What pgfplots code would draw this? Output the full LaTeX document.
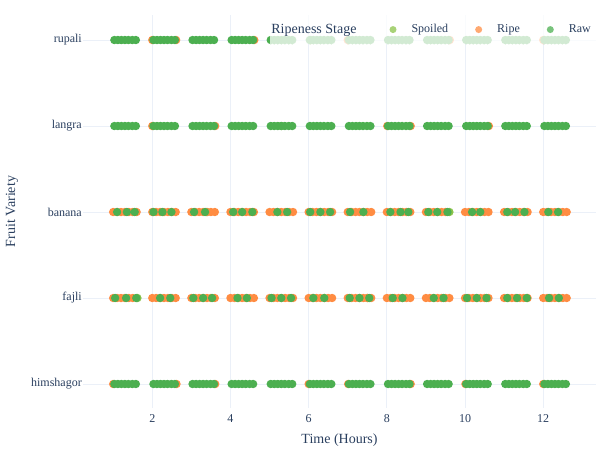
\documentclass[border=0pt]{standalone}
\usepackage{pgfplots}
\pgfplotsset{compat=1.18}
\usepackage{fontspec}
\setmainfont{Liberation Serif}
\definecolor{txt}{HTML}{2A3F5F}
\definecolor{gridc}{HTML}{EBF0F8}
\definecolor{spoiled}{HTML}{8BC34A}
\definecolor{ripe}{HTML}{FF8C42}
\definecolor{raw}{HTML}{4CAF50}
\begin{document}
\begin{tikzpicture}
\useasboundingbox (-83bp,-42bp) rectangle (513bp,408bp);
\begin{axis}[at={(0,0)}, anchor=south west, scale only axis, width=513bp, height=393bp,
 xmin=0.228, xmax=13.35, ymin=-0.279, ymax=4.291,
 xtick={2,4,6,8,10,12}, ytick={0,1,2,3,4},
 yticklabels={himshagor,fajli,banana,langra,rupali},
 /pgf/number format/assume math mode=true,
 grid=major, major grid style={draw=gridc, line width=1bp},
 axis line style={draw=none}, major tick length=0pt,
 tick label style={font=\fontsize{12bp}{14bp}\selectfont, text=txt},
 xticklabel style={anchor=north, inner sep=0pt, yshift=-6bp},
 yticklabel style={anchor=east, inner sep=0pt, xshift=-1bp},
 xlabel={Time (Hours)}, ylabel={Fruit Variety},
 label style={font=\fontsize{14bp}{16bp}\selectfont, text=txt},
 xlabel style={at={(axis description cs:0.5,-0.0814)}, anchor=center},
 ylabel style={at={(axis description cs:-0.1384,0.5)}, anchor=center},
 legend columns=4, legend cell align=left,
 legend style={at={(rel axis cs:1,1)}, anchor=north east, draw=none, fill=white,
   fill opacity=0.75, text opacity=1, font=\fontsize{12bp}{14bp}\selectfont, text=txt,
   inner xsep=3bp, inner ysep=7bp,
   /tikz/every even column/.append style={column sep=25bp},
   /tikz/every odd column/.append style={column sep=13bp}},
 legend image code/.code={\draw[#1, mark size=3.5bp] plot coordinates {(0bp,0bp)};},
 every axis plot/.append style={only marks, mark=*, mark size=4.2bp},
]
\addlegendimage{empty legend}
\addlegendentry{\fontsize{14bp}{16bp}\selectfont\hspace*{-17bp}Ripeness Stage\hspace*{6bp}}

\addplot[color=spoiled, mark options={fill=spoiled, draw opacity=0}] coordinates {
(9.60,2)(1.62,1)(6.05,4)(5.30,3)(3.40,2)(7.50,1)
};
\addlegendentry{Spoiled}

\addplot[color=ripe, mark options={fill=ripe, draw opacity=0}] coordinates {
(1.00,0)(2.62,0)(3.61,0)(6.00,0)(7.01,0)(8.61,0)(10.01,0)(12.00,0)
(2.00,3)(3.61,3)(8.01,3)(8.61,3)(10.61,3)
(2.00,4)(2.61,4)(4.61,4)(7.00,4)(9.61,4)(12.00,4)
(1.00,2)(1.10,2)(1.20,2)(1.30,2)(1.40,2)(1.50,2)(1.60,2)
(2.00,2)(2.10,2)(2.20,2)(2.30,2)(2.40,2)(2.50,2)(2.60,2)
(3.00,2)(3.10,2)(3.20,2)(3.30,2)(3.40,2)(3.50,2)(3.60,2)
(4.00,2)(4.10,2)(4.20,2)(4.30,2)(4.40,2)(4.50,2)(4.60,2)
(5.00,2)(5.10,2)(5.20,2)(5.30,2)(5.40,2)(5.50,2)(5.60,2)
(6.00,2)(6.10,2)(6.20,2)(6.30,2)(6.40,2)(6.50,2)(6.60,2)
(7.00,2)(7.10,2)(7.20,2)(7.30,2)(7.40,2)(7.50,2)(7.60,2)
(8.00,2)(8.10,2)(8.20,2)(8.30,2)(8.40,2)(8.50,2)(8.60,2)
(9.00,2)(9.10,2)(9.20,2)(9.30,2)(9.40,2)(9.50,2)
(10.00,2)(10.10,2)(10.20,2)(10.30,2)(10.40,2)(10.50,2)(10.60,2)
(11.00,2)(11.10,2)(11.20,2)(11.30,2)(11.40,2)(11.50,2)(11.60,2)
(12.00,2)(12.10,2)(12.20,2)(12.30,2)(12.40,2)(12.50,2)(12.60,2)
(1.00,1)(1.10,1)(1.20,1)(1.30,1)(1.40,1)(1.50,1)
(2.00,1)(2.10,1)(2.20,1)(2.30,1)(2.40,1)(2.50,1)(2.60,1)
(3.00,1)(3.10,1)(3.20,1)(3.30,1)(3.40,1)(3.50,1)(3.60,1)
(4.00,1)(4.10,1)(4.20,1)(4.30,1)(4.40,1)(4.50,1)(4.60,1)
(5.00,1)(5.10,1)(5.20,1)(5.30,1)(5.40,1)(5.50,1)(5.60,1)
(6.00,1)(6.10,1)(6.20,1)(6.30,1)(6.40,1)(6.50,1)(6.60,1)
(7.00,1)(7.10,1)(7.20,1)(7.30,1)(7.40,1)(7.50,1)(7.60,1)
(8.00,1)(8.10,1)(8.20,1)(8.30,1)(8.40,1)(8.50,1)(8.60,1)
(9.00,1)(9.10,1)(9.20,1)(9.30,1)(9.40,1)(9.50,1)(9.60,1)
(10.00,1)(10.10,1)(10.20,1)(10.30,1)(10.40,1)(10.50,1)(10.60,1)
(11.00,1)(11.10,1)(11.20,1)(11.30,1)(11.40,1)(11.50,1)(11.60,1)
(12.00,1)(12.10,1)(12.20,1)(12.30,1)(12.40,1)(12.50,1)(12.60,1)
};
\addlegendentry{Ripe}

\addplot[color=raw, mark options={fill=raw, draw opacity=0}] coordinates {
(1.03,0)(1.12,0)(1.21,0)(1.30,0)(1.39,0)(1.49,0)(1.58,0)
(2.03,0)(2.12,0)(2.21,0)(2.30,0)(2.39,0)(2.49,0)(2.58,0)
(3.03,0)(3.12,0)(3.21,0)(3.30,0)(3.39,0)(3.49,0)(3.58,0)
(4.03,0)(4.12,0)(4.21,0)(4.30,0)(4.39,0)(4.49,0)(4.58,0)
(5.03,0)(5.12,0)(5.21,0)(5.30,0)(5.39,0)(5.49,0)(5.58,0)
(6.03,0)(6.12,0)(6.21,0)(6.30,0)(6.39,0)(6.49,0)(6.58,0)
(7.03,0)(7.12,0)(7.21,0)(7.30,0)(7.39,0)(7.49,0)(7.58,0)
(8.03,0)(8.12,0)(8.21,0)(8.30,0)(8.39,0)(8.49,0)(8.58,0)
(9.03,0)(9.12,0)(9.21,0)(9.30,0)(9.39,0)(9.49,0)(9.58,0)
(10.03,0)(10.12,0)(10.21,0)(10.30,0)(10.39,0)(10.49,0)(10.58,0)
(11.03,0)(11.12,0)(11.21,0)(11.30,0)(11.39,0)(11.49,0)(11.58,0)
(12.03,0)(12.12,0)(12.21,0)(12.30,0)(12.39,0)(12.49,0)(12.58,0)
(1.03,3)(1.12,3)(1.21,3)(1.30,3)(1.39,3)(1.49,3)(1.58,3)
(2.03,3)(2.12,3)(2.21,3)(2.30,3)(2.39,3)(2.49,3)(2.58,3)
(3.03,3)(3.12,3)(3.21,3)(3.30,3)(3.39,3)(3.49,3)(3.58,3)
(4.03,3)(4.12,3)(4.21,3)(4.30,3)(4.39,3)(4.49,3)(4.58,3)
(5.03,3)(5.12,3)(5.21,3)(5.30,3)(5.39,3)(5.49,3)(5.58,3)
(6.03,3)(6.12,3)(6.21,3)(6.30,3)(6.39,3)(6.49,3)(6.58,3)
(7.03,3)(7.12,3)(7.21,3)(7.30,3)(7.39,3)(7.49,3)(7.58,3)
(8.03,3)(8.12,3)(8.21,3)(8.30,3)(8.39,3)(8.49,3)(8.58,3)
(9.03,3)(9.12,3)(9.21,3)(9.30,3)(9.39,3)(9.49,3)(9.58,3)
(10.03,3)(10.12,3)(10.21,3)(10.30,3)(10.39,3)(10.49,3)(10.58,3)
(11.03,3)(11.12,3)(11.21,3)(11.30,3)(11.39,3)(11.49,3)(11.58,3)
(12.03,3)(12.12,3)(12.21,3)(12.30,3)(12.39,3)(12.49,3)(12.58,3)
(1.03,4)(1.12,4)(1.21,4)(1.30,4)(1.39,4)(1.49,4)(1.58,4)
(2.03,4)(2.12,4)(2.21,4)(2.30,4)(2.39,4)(2.49,4)(2.58,4)
(3.03,4)(3.12,4)(3.21,4)(3.30,4)(3.39,4)(3.49,4)(3.58,4)
(4.03,4)(4.12,4)(4.21,4)(4.30,4)(4.39,4)(4.49,4)(4.58,4)
(5.03,4)(5.12,4)(5.21,4)(5.30,4)(5.39,4)(5.49,4)(5.58,4)
(6.03,4)(6.12,4)(6.21,4)(6.30,4)(6.39,4)(6.49,4)(6.58,4)
(7.03,4)(7.12,4)(7.21,4)(7.30,4)(7.39,4)(7.49,4)(7.58,4)
(8.03,4)(8.12,4)(8.21,4)(8.30,4)(8.39,4)(8.49,4)(8.58,4)
(9.03,4)(9.12,4)(9.21,4)(9.30,4)(9.39,4)(9.49,4)(9.58,4)
(10.03,4)(10.12,4)(10.21,4)(10.30,4)(10.39,4)(10.49,4)(10.58,4)
(11.03,4)(11.12,4)(11.21,4)(11.30,4)(11.39,4)(11.49,4)(11.58,4)
(12.03,4)(12.12,4)(12.21,4)(12.30,4)(12.39,4)(12.49,4)(12.58,4)
(1.10,2)(1.35,2)(1.55,2)
(2.03,2)(2.26,2)(2.49,2)
(3.07,2)(3.35,2)
(4.07,2)(4.30,2)(4.56,2)
(5.20,2)(5.45,2)
(6.04,2)(6.30,2)(6.55,2)
(7.06,2)(7.40,2)
(8.09,2)(8.35,2)(8.55,2)
(9.06,2)(9.29,2)(9.55,2)
(10.18,2)(10.39,2)
(11.08,2)(11.28,2)(11.52,2)
(12.13,2)(12.38,2)
(1.05,1)(1.33,1)(1.59,1)
(2.20,1)(2.46,1)
(3.05,1)(3.30,1)(3.53,1)
(4.18,1)(4.42,1)
(5.05,1)(5.30,1)(5.55,1)
(6.12,1)(6.40,1)
(7.05,1)(7.30,1)(7.55,1)
(8.15,1)(8.40,1)
(9.20,1)(9.45,1)
(10.05,1)(10.30,1)(10.55,1)
(11.08,1)(11.33,1)(11.58,1)
(12.15,1)(12.40,1)
};
\addlegendentry{Raw}
\end{axis}
\end{tikzpicture}
\end{document}
